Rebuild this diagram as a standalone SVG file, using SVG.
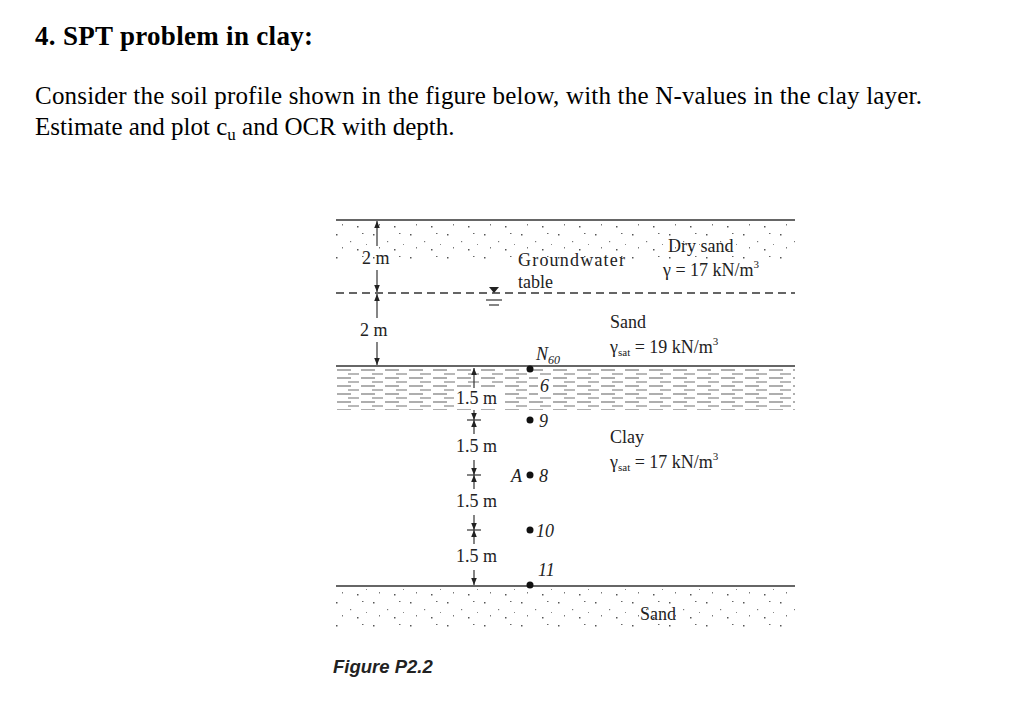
<svg xmlns="http://www.w3.org/2000/svg" width="1024" height="710" viewBox="0 0 1024 710">
<defs>
<style>
.h{font-family:"Liberation Serif",serif;fill:#000}
.f{font-family:"Liberation Serif",serif;font-size:18px;fill:#222}
.ln{stroke:#333;stroke-width:1.5;fill:none}
.d{stroke:#333;stroke-width:1.2}
</style>
<pattern id="sp" width="37" height="23" patternUnits="userSpaceOnUse">
<rect x="3" y="4" width="1.5" height="1.5" fill="#555"/><rect x="17" y="11" width="1.2" height="1.2" fill="#777"/><rect x="29" y="3" width="1.5" height="1" fill="#666"/><rect x="9" y="17" width="1" height="1.5" fill="#777"/><rect x="24" y="19" width="1.5" height="1.5" fill="#555"/><rect x="33" y="14" width="1" height="1" fill="#888"/>
</pattern>
<pattern id="cl" width="24" height="8" patternUnits="userSpaceOnUse">
<line x1="1" y1="2" x2="15" y2="2" stroke="#777" stroke-width="1.2"/><line x1="12" y1="6" x2="23" y2="6" stroke="#888" stroke-width="1.2"/>
</pattern>
<marker id="ar" viewBox="0 0 10 10" refX="10" refY="5" markerWidth="6" markerHeight="6" orient="auto"><path d="M0,1 L10,5 L0,9z" fill="#222"/></marker>
</defs>
<rect width="1024" height="710" fill="#fff"/>
<text class="h" x="35" y="45" font-size="27" font-weight="bold" textLength="278">4. SPT problem in clay:</text>
<text class="h" x="35" y="104" font-size="25" textLength="887">Consider the soil profile shown in the figure below, with the N-values in the clay layer.</text>
<text class="h" x="35" y="135" font-size="25">Estimate and plot c<tspan font-size="17" dy="5">u</tspan><tspan dy="-5"> and OCR with depth.</tspan></text>
<g id="layers">
<rect x="336" y="222" width="459" height="40" fill="url(#sp)"/>
<rect x="336" y="368" width="459" height="42" fill="url(#cl)"/>
<rect x="336" y="589" width="459" height="42" fill="url(#sp)"/>
<line class="ln" x1="336" y1="220" x2="795" y2="220"/>
<line class="ln" x1="336" y1="293" x2="795" y2="293" stroke-dasharray="8,5"/>
<line class="ln" x1="336" y1="366" x2="795" y2="366"/>
<line class="ln" x1="336" y1="586" x2="795" y2="586"/>
<rect x="454" y="388" width="50" height="20" fill="#fff"/>
<rect x="538" y="375" width="14" height="20" fill="#fff"/>
</g>
<g id="gwt">
<path d="M489,287 L499,287 L494,293z" fill="#222"/>
<line class="d" x1="486" y1="300" x2="502" y2="300"/><line class="d" x1="489" y1="305" x2="499" y2="305"/>
</g>
<g id="connectors">
<line class="d" x1="377" y1="246" x2="377" y2="221" marker-end="url(#ar)"/>
<line class="d" x1="377" y1="270" x2="377" y2="292" marker-end="url(#ar)"/>
<line class="d" x1="377" y1="318" x2="377" y2="294" marker-end="url(#ar)"/>
<line class="d" x1="377" y1="342" x2="377" y2="365" marker-end="url(#ar)"/>
<line class="d" x1="474" y1="388" x2="474" y2="368" marker-end="url(#ar)"/>
<line class="d" x1="474" y1="410" x2="474" y2="420" marker-end="url(#ar)"/>
<line class="d" x1="474" y1="434" x2="474" y2="420" marker-end="url(#ar)"/>
<line class="d" x1="467" y1="420" x2="481" y2="420"/>
<line class="d" x1="474" y1="460" x2="474" y2="475" marker-end="url(#ar)"/>
<line class="d" x1="474" y1="489" x2="474" y2="475" marker-end="url(#ar)"/>
<line class="d" x1="467" y1="475" x2="481" y2="475"/>
<line class="d" x1="474" y1="515" x2="474" y2="530" marker-end="url(#ar)"/>
<line class="d" x1="474" y1="544" x2="474" y2="530" marker-end="url(#ar)"/>
<line class="d" x1="467" y1="530" x2="481" y2="530"/>
<line class="d" x1="474" y1="570" x2="474" y2="585" marker-end="url(#ar)"/>
</g>
<g id="points" fill="#111">
<circle cx="530" cy="369" r="3.5"/><circle cx="530" cy="420" r="3.5"/><circle cx="530" cy="475" r="3.5"/><circle cx="530" cy="530" r="3.5"/><circle cx="530" cy="585" r="3.5"/>
</g>
<g id="labels">
<text class="f" x="362" y="264">2 m</text>
<text class="f" x="360" y="336">2 m</text>
<text class="f" x="456" y="404">1.5 m</text>
<text class="f" x="456" y="452">1.5 m</text>
<text class="f" x="456" y="507">1.5 m</text>
<text class="f" x="456" y="562">1.5 m</text>
<text class="f" x="518" y="266" textLength="107">Groundwater</text>
<text class="f" x="518" y="288">table</text>
<text class="f" x="668" y="252">Dry sand</text>
<text class="f" x="663" y="276">γ = 17 kN/m<tspan font-size="11" dy="-8">3</tspan></text>
<text class="f" x="610" y="328">Sand</text>
<text class="f" x="610" y="353">γ<tspan font-size="11" dy="3">sat</tspan><tspan dy="-3"> = 19 kN/m</tspan><tspan font-size="11" dy="-8">3</tspan></text>
<text class="f" x="610" y="443">Clay</text>
<text class="f" x="610" y="468">γ<tspan font-size="11" dy="3">sat</tspan><tspan dy="-3"> = 17 kN/m</tspan><tspan font-size="11" dy="-8">3</tspan></text>
<text class="f" x="640" y="620">Sand</text>
<text class="f" x="536" y="360" font-style="italic">N<tspan font-size="12" dy="4">60</tspan></text>
<text class="f" x="540" y="392" font-style="italic">6</text>
<text class="f" x="539" y="427" font-style="italic">9</text>
<text class="f" x="511" y="482" font-style="italic">A</text>
<text class="f" x="539" y="482" font-style="italic">8</text>
<text class="f" x="536" y="537" font-style="italic">10</text>
<text class="f" x="538" y="576" font-style="italic">11</text>
<text x="333" y="673" font-family="Liberation Sans,sans-serif" font-size="18.5" font-weight="bold" font-style="italic" fill="#222">Figure P2.2</text>
</g>
</svg>
